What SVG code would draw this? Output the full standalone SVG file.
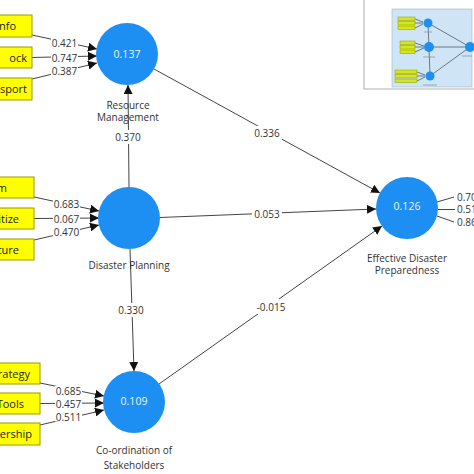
<svg xmlns="http://www.w3.org/2000/svg" width="474" height="474" viewBox="0 0 474 474">
<style>
  .box{fill:#ffff00;stroke:#9a9a00;stroke-width:1}
  .bt{font-family:"Open Sans","Noto Sans",sans-serif;font-size:11px;fill:#222;text-anchor:end}
  .node{fill:#1e8ff2}
  .nv{font-family:"Open Sans","Noto Sans",sans-serif;font-size:10.5px;fill:#eaf4ff;text-anchor:middle}
  .nl{font-family:"Open Sans","Noto Sans",sans-serif;font-size:10px;fill:#333;text-anchor:middle}
  .ln{stroke:#444;stroke-width:1;fill:none}
  .ea{stroke:#444;stroke-width:1;fill:none;marker-end:url(#arr)}
  .el{font-family:"Open Sans","Noto Sans",sans-serif;font-size:10px;fill:#333;text-anchor:middle}
  .halo{fill:#ffffff}
  .mbox{fill:#d6e61a;stroke:#8a9a00;stroke-width:0.5}
  .mnode{fill:#1e8ff2}
  .mln{stroke:#3a4a5a;stroke-width:0.7;fill:none}
</style>
<defs>
  <marker id="arr" viewBox="0 0 10 10" refX="10" refY="5" markerWidth="9" markerHeight="9" markerUnits="userSpaceOnUse" orient="auto">
    <path d="M0,0 L10,5 L0,10 z" fill="#111"/>
  </marker>
</defs>
<rect x="0" y="0" width="474" height="474" fill="#ffffff"/>

<!-- thumbnail -->
<g id="thumbnail">
  <rect x="364" y="-1" width="112" height="90" fill="#ffffff" stroke="#b0b0b0" stroke-width="1"/>
  <rect x="392" y="9" width="80" height="78" fill="#cfe5f6" stroke="#9fb6c8" stroke-width="0.6"/>
  <line class="mln" x1="428" y1="23" x2="470" y2="47"/>
  <line class="mln" x1="429" y1="47" x2="470" y2="47"/>
  <line class="mln" x1="430" y1="76" x2="470" y2="47"/>
  <line class="mln" x1="429" y1="47" x2="428" y2="23"/>
  <line class="mln" x1="429" y1="47" x2="430" y2="76"/>
  <line class="mln" x1="415" y1="19" x2="423" y2="22"/>
  <line class="mln" x1="415" y1="23" x2="423" y2="23"/>
  <line class="mln" x1="415" y1="28" x2="423" y2="24"/>
  <line class="mln" x1="415" y1="43" x2="424" y2="46"/>
  <line class="mln" x1="415" y1="47" x2="424" y2="47"/>
  <line class="mln" x1="415" y1="52" x2="424" y2="48"/>
  <line class="mln" x1="417" y1="72" x2="425" y2="75"/>
  <line class="mln" x1="417" y1="76" x2="425" y2="76"/>
  <line class="mln" x1="417" y1="81" x2="425" y2="77"/>
  <rect class="mbox" x="398" y="17" width="17" height="3.5"/>
  <rect class="mbox" x="398" y="21.5" width="17" height="3.5"/>
  <rect class="mbox" x="398" y="26" width="17" height="3.5"/>
  <rect class="mbox" x="400" y="41" width="15" height="3.5"/>
  <rect class="mbox" x="400" y="45.5" width="15" height="3.5"/>
  <rect class="mbox" x="400" y="50" width="15" height="3.5"/>
  <rect class="mbox" x="395" y="70" width="22" height="3.5"/>
  <rect class="mbox" x="395" y="74.5" width="22" height="3.5"/>
  <rect class="mbox" x="395" y="79" width="22" height="3.5"/>
  <circle class="mnode" cx="428" cy="23" r="4.5"/>
  <circle class="mnode" cx="429" cy="47" r="5"/>
  <circle class="mnode" cx="430" cy="76" r="4.5"/>
  <circle class="mnode" cx="470" cy="47" r="5"/>
  <line x1="424" y1="32" x2="432" y2="32" stroke="#8a97a5" stroke-width="0.8"/>
  <line x1="423" y1="57" x2="435" y2="57" stroke="#8a97a5" stroke-width="0.8"/>
  <line x1="423" y1="85" x2="437" y2="85" stroke="#8a97a5" stroke-width="0.8"/>
  <line x1="462" y1="56" x2="472" y2="56" stroke="#8a97a5" stroke-width="0.8"/>
</g>

<!-- connectors -->
<g id="connectors">
  <!-- RM indicators -->
  <line class="ea" x1="32" y1="35" x2="97" y2="49"/>
  <line class="ea" x1="32" y1="57.5" x2="97" y2="56"/>
  <line class="ea" x1="32" y1="79" x2="97" y2="63"/>
  <!-- DP indicators -->
  <line class="ea" x1="34" y1="197" x2="99" y2="211"/>
  <line class="ea" x1="34" y1="218.5" x2="99" y2="218"/>
  <line class="ea" x1="34" y1="240" x2="99" y2="225"/>
  <!-- CO indicators -->
  <line class="ea" x1="40" y1="383" x2="104" y2="396"/>
  <line class="ea" x1="40" y1="403.5" x2="104" y2="403"/>
  <line class="ea" x1="40" y1="425" x2="104" y2="410"/>
  <!-- EDP indicators (outward) -->
  <line class="ln" x1="437" y1="202" x2="454" y2="197"/>
  <line class="ln" x1="438" y1="209.5" x2="455" y2="209.5"/>
  <line class="ln" x1="437" y1="216" x2="454" y2="222"/>
  <!-- structural paths -->
  <line class="ea" x1="129" y1="187" x2="128" y2="85"/>
  <line class="ea" x1="154" y1="69" x2="380" y2="193"/>
  <line class="ea" x1="160" y1="217.5" x2="376" y2="209"/>
  <line class="ea" x1="130" y1="249" x2="134" y2="371"/>
  <line class="ea" x1="159" y1="384" x2="382" y2="226"/>

  <!-- labels with halos -->
  <rect class="halo" x="51" y="38" width="27" height="10"/>
  <text class="el" x="64.5" y="47">0.421</text>
  <rect class="halo" x="51" y="52.5" width="27" height="10"/>
  <text class="el" x="64.5" y="61.5">0.747</text>
  <rect class="halo" x="51" y="65.5" width="27" height="10"/>
  <text class="el" x="64.5" y="74.5">0.387</text>

  <rect class="halo" x="53" y="199" width="27" height="10"/>
  <text class="el" x="66.5" y="208">0.683</text>
  <rect class="halo" x="53" y="214" width="27" height="10"/>
  <text class="el" x="66.5" y="223">0.067</text>
  <rect class="halo" x="53" y="227" width="27" height="10"/>
  <text class="el" x="66.5" y="236">0.470</text>

  <rect class="halo" x="55" y="386" width="27" height="10"/>
  <text class="el" x="68.5" y="395">0.685</text>
  <rect class="halo" x="55" y="398.5" width="27" height="10"/>
  <text class="el" x="68.5" y="407.5">0.457</text>
  <rect class="halo" x="55" y="411.5" width="27" height="10"/>
  <text class="el" x="68.5" y="420.5">0.511</text>

  <rect class="halo" x="114" y="130" width="28" height="14"/>
  <text class="el" x="128" y="141">0.370</text>
  <rect class="halo" x="252" y="126" width="30" height="14"/>
  <text class="el" x="267" y="137">0.336</text>
  <rect class="halo" x="252" y="207" width="30" height="13"/>
  <text class="el" x="267" y="217.5">0.053</text>
  <rect class="halo" x="117" y="303" width="28" height="14"/>
  <text class="el" x="131" y="314">0.330</text>
  <rect class="halo" x="254" y="299" width="34" height="15"/>
  <text class="el" x="271" y="310.5">-0.015</text>

  <text class="el" x="457" y="200.5" style="text-anchor:start">0.70</text>
  <text class="el" x="457" y="213" style="text-anchor:start">0.51</text>
  <text class="el" x="457" y="226" style="text-anchor:start">0.86</text>
</g>

<!-- indicator boxes -->
<g id="rm-indicators">
  <rect class="box" x="-5" y="15" width="37" height="22"/>
  <text class="bt" x="16" y="30">Info</text>
  <rect class="box" x="-5" y="47" width="37" height="21"/>
  <text class="bt" x="27" y="61.5">ock</text>
  <rect class="box" x="-5" y="78" width="37" height="22"/>
  <text class="bt" x="27" y="93">nsport</text>
</g>
<g id="dp-indicators">
  <rect class="box" x="-5" y="177" width="39" height="21"/>
  <text class="bt" x="7" y="191.5">m</text>
  <rect class="box" x="-5" y="208" width="39" height="21"/>
  <text class="bt" x="19" y="222.5">itize</text>
  <rect class="box" x="-5" y="239" width="39" height="21"/>
  <text class="bt" x="19" y="253.5">ture</text>
</g>
<g id="co-indicators">
  <rect class="box" x="-5" y="363" width="45" height="21"/>
  <text class="bt" x="30" y="377.5">rategy</text>
  <rect class="box" x="-5" y="393" width="45" height="21"/>
  <text class="bt" x="24" y="407.5">Tools</text>
  <rect class="box" x="-5" y="423" width="45" height="22"/>
  <text class="bt" x="32" y="438">dership</text>
</g>

<!-- latent nodes -->
<g id="resource-management">
  <circle class="node" cx="127" cy="54" r="31"/>
  <text class="nv" x="127" y="57.5">0.137</text>
  <text class="nl" x="128" y="108.5">Resource</text>
  <text class="nl" x="128" y="121">Management</text>
</g>
<g id="disaster-planning">
  <circle class="node" cx="129" cy="218" r="31"/>
  <text class="nl" x="129" y="269">Disaster Planning</text>
</g>
<g id="coordination-of-stakeholders">
  <circle class="node" cx="134" cy="402" r="31"/>
  <text class="nv" x="134" y="405">0.109</text>
  <text class="nl" x="134" y="454">Co-ordination of</text>
  <text class="nl" x="134" y="469">Stakeholders</text>
</g>
<g id="effective-disaster-preparedness">
  <circle class="node" cx="407" cy="208" r="31"/>
  <text class="nv" x="407" y="210">0.126</text>
  <text class="nl" x="407" y="261.5">Effective Disaster</text>
  <text class="nl" x="407" y="274">Preparedness</text>
</g>
</svg>
